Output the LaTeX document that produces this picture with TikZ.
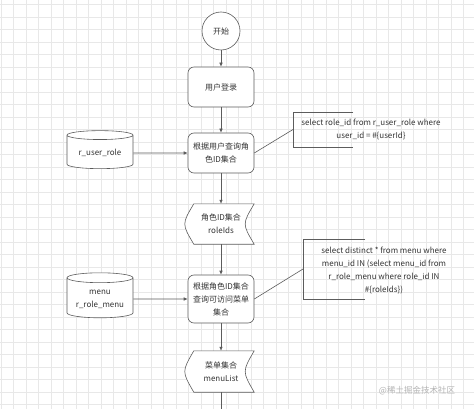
\documentclass[tikz,border=0pt]{standalone}
\usepackage{fontspec}
\setmainfont{Noto Sans CJK SC}
\usepackage{tikz}
\usetikzlibrary{
arrows.meta,
positioning,
shapes.geometric,
backgrounds
}
\definecolor{flowline}{HTML}{5C5C5C}
\definecolor{flowtext}{HTML}{333333}
\definecolor{gridgray}{HTML}{E8E8E8}
\definecolor{markgray}{HTML}{B4B4B4}

\begin{document}
\begin{tikzpicture}[x=1pt, y=-1pt,
  every node/.style={font=\fontsize{8}{13}\selectfont, text=flowtext},
  gridline/.style={gridgray, line width=0.5pt},
  proc/.style={draw=flowline, line width=0.6pt, rounded corners=6pt, fill=white,
    minimum width=66pt, minimum height=40pt, align=center, inner sep=2pt},
  dbase/.style={cylinder, shape border rotate=90, aspect=0.18, draw=flowline,
    line width=0.6pt, fill=white, minimum width=66pt, minimum height=38pt, align=center},
  stored/.style={minimum width=66pt, minimum height=40pt, align=center},
  link/.style={flowline, line width=0.6pt},
  flow/.style={link, -{Latex[length=4pt,width=3.5pt]}}
]
  \useasboundingbox (0,0) rectangle (474,409);
  % Grid paper
  \begin{pgfonlayer}{background}
    \fill[white] (0,0) rectangle (474,409);
    \foreach \gx in {0.8,13.3,...,474} \draw[gridline] (\gx,0) -- (\gx,409);
    \foreach \gy in {4.5,17,...,409} \draw[gridline] (0,\gy) -- (474,\gy);
  \end{pgfonlayer}
  % Main flow
  \node[circle, draw=flowline, line width=0.6pt, fill=white, minimum size=38pt] (start) at (221,31) {开始};
  \node[proc] (login) at (221,87) {用户登录};
  \node[proc] (qrole) at (221,153) {根据用户查询角\\色ID集合};
  \node[stored] (roleids) at (221,224) {角色ID集合\\roleIds};
  \node[proc, minimum height=48pt] (qmenu) at (221,299) {根据角色ID集合\\查询可访问菜单\\集合};
  \node[stored, minimum height=41pt] (menulist) at (221,371.5) {菜单集合\\menuList};
  \coordinate (tail) at (221,409);
  % Tables
  \node[dbase] (urole) at (100,153) {r\_user\_role};
  \node[dbase, minimum height=45pt] (menutbl) at (100,299) {menu\\r\_role\_menu};
  % Stored data outlines
  \begin{pgfonlayer}{background}
    \foreach \sd in {roleids, menulist}
      \draw[link, fill=white] ([xshift=6pt]\sd.north west) -- (\sd.north east)
        .. controls ([xshift=-12pt]\sd.east) .. (\sd.south east)
        -- ([xshift=6pt]\sd.south west)
        .. controls ([xshift=-6pt]\sd.west) .. cycle;
  \end{pgfonlayer}
  % SQL notes
  \coordinate (q1) at (293,129.5);
  \coordinate (q2) at (303,269);
  \draw[link] (q1) ++(60,-17.5) -- ++(-60,0) -- ++(0,35) -- ++(60,0);
  \draw[link] (q2) ++(62,-30) -- ++(-62,0) -- ++(0,60) -- ++(62,0);
  \node[align=center] (sql1) at (371,129.5) {select role\_id from r\_user\_role where\\user\_id = \#\{userId\}};
  \node[align=center] (sql2) at (384,271) {select distinct * from menu where\\menu\_id IN (select menu\_id from\\r\_role\_menu where role\_id IN\\\#\{roleIds\})};
  % Connectors
  \draw[flow] (start) -- (login);
  \draw[flow] (login) -- (qrole);
  \draw[flow] (qrole) -- (roleids);
  \draw[flow] (roleids) -- (qmenu);
  \draw[flow] (qmenu) -- (menulist);
  \draw[link] (menulist) -- (tail);
  \draw[flow] (urole) -- (qrole);
  \draw[flow] (menutbl) -- (qmenu);
  \draw[link] (qrole.east) -- (q1);
  \draw[link] (qmenu.east) -- (q2);
  % Watermark
  \node[text=markgray, font=\fontsize{8.5}{10}\selectfont] (mark) at (417,391) {@稀土掘金技术社区};
\end{tikzpicture}
\end{document}
